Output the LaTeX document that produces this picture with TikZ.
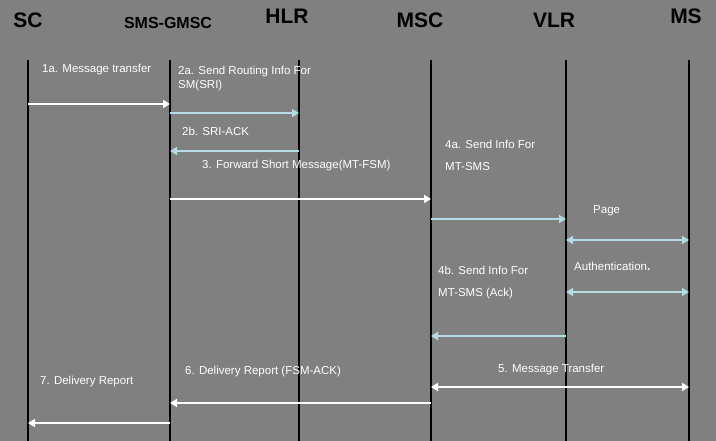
\documentclass[tikz,border=0pt]{standalone}
\usepackage{fontspec}
\setmainfont{Liberation Sans}
\usetikzlibrary{arrows.meta}
\definecolor{bg}{HTML}{808080}
\definecolor{lb}{HTML}{B4DCE4}
\begin{document}
\begin{tikzpicture}[x=1pt,y=-1pt,
  hdr/.style={font=\bfseries\fontsize{21}{21}\selectfont,text=black,inner sep=0},
  life/.style={line width=1.8pt,black},
  lbl/.style={font=\fontsize{11.5}{14}\selectfont,text=white,anchor=west,align=left,inner sep=0},
  wa/.style={line width=2.8pt,white,-{Triangle[length=7pt,width=8pt]}},
  ba/.style={line width=2.8pt,lb,-{Triangle[length=7pt,width=8pt]}},
  bb/.style={line width=2.8pt,lb,{Triangle[length=7pt,width=8pt]}-{Triangle[length=7pt,width=8pt]}},
  wb/.style={line width=2.2pt,white,{Triangle[length=7pt,width=8pt]}-{Triangle[length=7pt,width=8pt]}}]
\fill[bg] (0,0) rectangle (716,441);
\useasboundingbox (0,0) rectangle (716,441);
\node[hdr] (hSC) at (28,20) {SC};
\node[hdr,font=\bfseries\fontsize{16}{16}\selectfont] (hGM) at (168,23) {SMS-GMSC};
\node[hdr] (hHLR) at (287,16) {HLR};
\node[hdr] (hMSC) at (420,20) {MSC};
\node[hdr] (hVLR) at (554,20) {VLR};
\node[hdr] (hMS) at (686,16) {MS};
\foreach \n/\x in {sc/28,gm/170,hlr/299,msc/431,vlr/566,ms/689}{
  \coordinate (\n t) at (\x,60); \coordinate (\n b) at (\x,441);
  \draw[life] (\n t) -- (\n b);
  \foreach \y in {104,113,151,199,219,240,292,336,387,403,423}{\coordinate (\n\y) at (\x,\y);}
}
\draw[wa] (sc104) -- (gm104);
\node[lbl] (l1) at (42,70) {1a. Message transfer};
\draw[ba] (gm113) -- (hlr113);
\node[lbl] (l2a) at (178,79) {2a. Send Routing Info For\\SM(SRI)};
\draw[ba] (hlr151) -- (gm151);
\node[lbl] (l2b) at (182,131) {2b. SRI-ACK};
\draw[wa] (gm199) -- (msc199);
\node[lbl] (l3) at (202,166) {3. Forward Short Message(MT-FSM)};
\draw[ba] (msc219) -- (vlr219);
\node[lbl,font=\fontsize{11.5}{22}\selectfont] (l4a) at (445,155) {4a. Send Info For\\MT-SMS};
\draw[bb] (vlr240) -- (ms240);
\node[lbl] (lp) at (593,211) {Page};
\draw[bb] (vlr292) -- (ms292);
\node[lbl] (la) at (574,266) {Authentication\textbf{.}};
\node[lbl,font=\fontsize{11.5}{22}\selectfont] (l4b) at (438,283) {4b. Send Info For\\MT-SMS (Ack)};
\draw[ba] (vlr336) -- (msc336);
\draw[wb] (msc387) -- (ms387);
\node[lbl] (l5) at (498,370) {5. Message Transfer};
\draw[wa] (msc403) -- (gm403);
\node[lbl] (l6) at (185,372) {6. Delivery Report (FSM-ACK)};
\draw[wa] (gm423) -- (sc423);
\node[lbl] (l7) at (40,382) {7. Delivery Report};
\end{tikzpicture}
\end{document}
